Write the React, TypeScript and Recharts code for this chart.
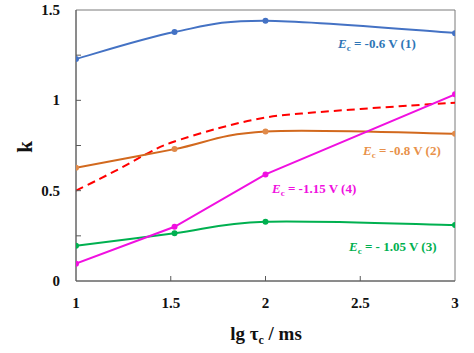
import { LineChart, Line, XAxis, YAxis, ReferenceArea } from "recharts";

const lgTau = [1, 1.52, 2, 3];
const kBlue = [1.229, 1.378, 1.441, 1.372];
const kOrange = [0.627, 0.73, 0.828, 0.815];
const kGreen = [0.195, 0.264, 0.328, 0.31];
const kMagenta = [0.096, 0.3, 0.59, 1.033];

const fitX = [1, 1.125, 1.25, 1.375, 1.5, 1.75, 2, 2.25, 2.5, 2.75, 3];
const fitK = [0.5, 0.565, 0.633, 0.705, 0.765, 0.845, 0.905, 0.932, 0.952, 0.97, 0.987];

const xTicks = [1, 1.5, 2, 2.5, 3];
const yTicks = [0, 0.25, 0.5, 0.75, 1, 1.25, 1.5];
const yLabels = ["0", "0.5", "1", "1.5"];

const toRows = (xs: number[], ks: number[]) => xs.map((x, i) => ({ x, k: ks[i] }));

const FONT = "'Liberation Serif', 'Times New Roman', serif";
const AXIS = "#5a5a5a";

// excel-style smoothed line (catmull-rom as bezier)
function smooth(context: any) {
  let pts: number[][] = [];
  return {
    areaStart() {},
    areaEnd() {},
    lineStart() {
      pts = [];
    },
    point(x: number, y: number) {
      pts.push([+x, +y]);
    },
    lineEnd() {
      if (!pts.length) return;
      context.moveTo(pts[0][0], pts[0][1]);
      for (let i = 0; i < pts.length - 1; i++) {
        const p0 = pts[i - 1] || pts[i];
        const p1 = pts[i];
        const p2 = pts[i + 1];
        const p3 = pts[i + 2] || p2;
        context.bezierCurveTo(
          p1[0] + (p2[0] - p0[0]) / 6,
          p1[1] + (p2[1] - p0[1]) / 6,
          p2[0] - (p3[0] - p1[0]) / 6,
          p2[1] - (p3[1] - p1[1]) / 6,
          p2[0],
          p2[1]
        );
      }
    },
  };
}

function YTick(props: any) {
  const { x, y, payload } = props;
  const v = payload.value;
  const lbl = yLabels.includes(String(v));
  const ax = x + 16;
  return (
    <g>
      {v > 0 && v < 1.5 && <line x1={ax} x2={ax + 5} y1={y} y2={y} stroke={AXIS} strokeWidth={1} />}
      {lbl && (
        <text x={x} y={y} dy={5} textAnchor="end" fontFamily={FONT} fontWeight="bold" fontSize={15} fill="#111">
          {String(v)}
        </text>
      )}
    </g>
  );
}

function XTick(props: any) {
  const { x, y, payload } = props;
  const v = payload.value;
  const ay = y - 22;
  return (
    <g>
      {v > 1 && v < 3 && <line x1={x} x2={x} y1={ay} y2={ay - 5} stroke={AXIS} strokeWidth={1} />}
      <text x={x} y={y} dy={5} textAnchor="middle" fontFamily={FONT} fontWeight="bold" fontSize={15} fill="#111">
        {String(v)}
      </text>
    </g>
  );
}

function Note({ x, y, color, text }: { x: number; y: number; color: string; text: string }) {
  return (
    <text x={x} y={y} fontFamily={FONT} fontWeight="bold" fontSize={13} fill={color}>
      <tspan fontStyle="italic">E</tspan>
      <tspan fontSize={9} dy={3}>c</tspan>
      <tspan dy={-3}>{text}</tspan>
    </text>
  );
}

export default function App() {
  return (
    <div style={{ position: "absolute", left: 0, top: 0 }}>
      <LineChart width={474} height={353} margin={{ top: 10, right: 19, left: 0, bottom: 0 }}>
        <XAxis
          dataKey="x"
          type="number"
          domain={[1, 3]}
          ticks={xTicks}
          allowDataOverflow
          height={72}
          stroke={AXIS}
          tickLine={false}
          tickSize={0}
          tickMargin={22}
          tick={<XTick />}
        />
        <YAxis
          dataKey="k"
          type="number"
          domain={[0, 1.5]}
          ticks={yTicks}
          width={76}
          stroke={AXIS}
          tickLine={false}
          tickSize={0}
          tickMargin={16}
          tick={<YTick />}
          interval={0}
        />
        <ReferenceArea x1={1} x2={3} y1={0} y2={1.5} fill="none" stroke="#7a7a7a" strokeWidth={1} ifOverflow="visible" />
        <Line data={toRows(fitX, fitK)} dataKey="k" type={smooth as any} stroke="#ff0000" strokeWidth={2} strokeDasharray="8 5" dot={false} isAnimationActive={false} />
        <Line data={toRows(lgTau, kBlue)} dataKey="k" type={smooth as any} stroke="#4472c4" strokeWidth={2} dot={{ r: 2, fill: "#4472c4", stroke: "#4472c4" }} isAnimationActive={false} />
        <Line data={toRows(lgTau, kOrange)} dataKey="k" type={smooth as any} stroke="#d2691e" strokeWidth={2} dot={{ r: 2, fill: "#e08a4a", stroke: "#e08a4a" }} isAnimationActive={false} />
        <Line data={toRows(lgTau, kGreen)} dataKey="k" type={smooth as any} stroke="#00b050" strokeWidth={2} dot={{ r: 2, fill: "#00b050", stroke: "#00b050" }} isAnimationActive={false} />
        <Line data={toRows(lgTau, kMagenta)} dataKey="k" type="linear" stroke="#f010e0" strokeWidth={2} dot={{ r: 2, fill: "#f010e0", stroke: "#f010e0" }} isAnimationActive={false} />
        <Note x={338} y={48} color="#2e75b6" text=" = -0.6 V (1)" />
        <Note x={363} y={155} color="#e8914a" text=" = -0.8 V (2)" />
        <Note x={272} y={193} color="#f010e0" text=" = -1.15 V (4)" />
        <Note x={349} y={251} color="#00b050" text=" = - 1.05 V (3)" />
        <text x={25} y={147} transform="rotate(-90 25 147)" textAnchor="middle" dominantBaseline="central" fontFamily={FONT} fontWeight="bold" fontSize={21} fill="#111">
          k
        </text>
        <text x={266} y={340} textAnchor="middle" fontFamily={FONT} fontWeight="bold" fontSize={19} fill="#111">
          lg τ<tspan fontSize={12} dy={4}>c</tspan>
          <tspan dy={-4}> / ms</tspan>
        </text>
      </LineChart>
    </div>
  );
}
